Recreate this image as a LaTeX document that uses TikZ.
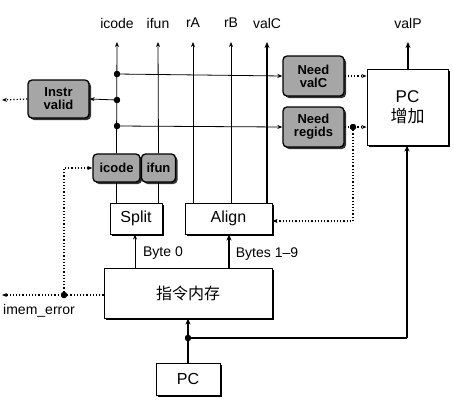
\documentclass[tikz,border=0pt]{standalone}
\usepackage{fontspec}
\setmainfont{Liberation Sans}
\newfontfamily\cjk{Noto Sans CJK SC}
\usetikzlibrary{arrows.meta,shadows}
\begin{document}
\begin{tikzpicture}[x=1pt,y=-1pt,
  box/.style={draw, line width=1pt, fill=white, inner sep=0pt,
    drop shadow={shadow xshift=2pt, shadow yshift=-2pt, opacity=1, fill=black},
    font=\fontsize{16}{18}\selectfont, align=center},
  gbox/.style={draw, line width=1.3pt, rounded corners=4pt, fill=gray!70, inner sep=0pt,
    drop shadow={shadow xshift=2pt, shadow yshift=-2pt, opacity=0.8, fill=black},
    font=\bfseries\fontsize{13}{13}\selectfont, align=center},
  lbl/.style={font=\fontsize{14}{16}\selectfont, inner sep=0pt},
  sig/.style={line width=0.8pt, -{Stealth[length=5pt,width=4pt]}},
  wire/.style={line width=0.8pt},
  bus/.style={line width=2pt, -{Stealth[length=6pt,width=5pt]}},
  busl/.style={line width=2pt},
  ctl/.style={dotted, line width=1.2pt, -{Stealth[length=5pt,width=4pt]}},
  ctll/.style={dotted, line width=1.2pt},
  jdot/.style={circle, fill=black, inner sep=0pt, minimum size=6pt}
]
\useasboundingbox (0,0) rectangle (454,405);

% boxes
\node[box, minimum width=168pt, minimum height=50pt] (mem) at (188,293) {\cjk 指令内存};
\node[box, minimum width=64pt, minimum height=32pt] (pc) at (188,379) {PC};
\node[box, minimum width=52pt, minimum height=31pt] (split) at (136,218.5) {Split};
\node[box, minimum width=87pt, minimum height=31pt] (align) at (228.5,218.5) {Align};
\node[box, minimum width=81pt, minimum height=76pt, font=\fontsize{17}{20}\selectfont] (pcinc) at (407.5,107) {PC\\{\cjk 增加}};
\node[gbox, minimum width=47pt, minimum height=28pt] (icb) at (116.5,168) {icode};
\node[gbox, minimum width=34pt, minimum height=28pt] (ifb) at (158.5,168) {ifun};
\node[gbox, minimum width=61pt, minimum height=38pt] (iv) at (58.5,99) {Instr\\valid};
\node[gbox, minimum width=61pt, minimum height=40pt] (nvc) at (313.5,76) {Need\\valC};
\node[gbox, minimum width=61pt, minimum height=40pt] (nrg) at (313.5,127) {Need\\regids};

% top labels
\node[lbl] (licode) at (117,23) {icode};
\node[lbl] (lifun) at (158,23) {ifun};
\node[lbl] (lra) at (193,23) {rA};
\node[lbl] (lrb) at (231,23) {rB};
\node[lbl] (lvalc) at (267,23) {valC};
\node[lbl] (lvalp) at (408,23) {valP};
\coordinate (ticode) at (117,42);
\coordinate (tifun) at (158,42);
\coordinate (tra) at (193,42);
\coordinate (trb) at (231,42);
\coordinate (tvalc) at (267,42);
\coordinate (tvalp) at (408,42);

% junction dots
\node[jdot] (d1) at (117,74) {};
\node[jdot] (d2) at (117,100) {};
\node[jdot] (d3) at (117,126) {};
\node[jdot] (d4) at (353,127) {};
\node[jdot] (d5) at (64,295) {};
\node[jdot] (d6) at (188,338) {};
\coordinate (e1) at (2,100);
\coordinate (e2) at (2,295);
\coordinate (c1) at (64,168);
\coordinate (c2) at (353,221);
\coordinate (c3) at (407,338);

% signal wires
\draw[wire] (split.north -| icb.south) -- (icb.south);
\draw[sig] (icb.north) -- (ticode);
\draw[wire] (split.north -| ifb.south) -- (ifb.south);
\draw[sig] (ifb.north) -- (tifun);
\draw[sig] (align.north -| tra) -- (tra);
\draw[sig] (align.north -| trb) -- (trb);
\draw[bus] (align.north -| tvalc) -- (tvalc);
\draw[sig] (d1) -- (nvc.west);
\draw[sig] (d3) -- (nrg.west);
\draw[sig] (d2) -- (iv.east);
\draw[sig] (mem.north -| 135,0) -- (split.south -| 135,0);
\draw[bus] (mem.north -| 229,0) -- (align.south -| 229,0);
\draw[bus] (pc.north) -- (mem.south);
\draw[busl] (d6) -- (c3);
\draw[bus] (c3) -- (pcinc.south -| c3);
\draw[bus] (pcinc.north -| tvalp) -- (tvalp);

% control (dotted)
\draw[ctl] (iv.west) -- (e1);
\draw[ctl] (nvc.east) -- (pcinc.west |- nvc.east);
\draw[ctl] (nrg.east) -- (pcinc.west |- d4);
\draw[ctl] (d4) -- (c2) -- (align.east |- c2);
\draw[ctl] (mem.west |- d5) -- (e2);
\draw[ctl] (d5) -- (c1) -- (icb.west);

% redraw dots on top
\foreach \d in {d1,d2,d3,d4,d5,d6} \fill (\d) circle (3.2pt);

% other labels
\node[lbl] (lb0) at (163,253) {Byte 0};
\node[lbl] (lb19) at (267,254) {Bytes 1--9};
\node[lbl] (lim) at (39,311) {imem\_error};
\end{tikzpicture}
\end{document}
